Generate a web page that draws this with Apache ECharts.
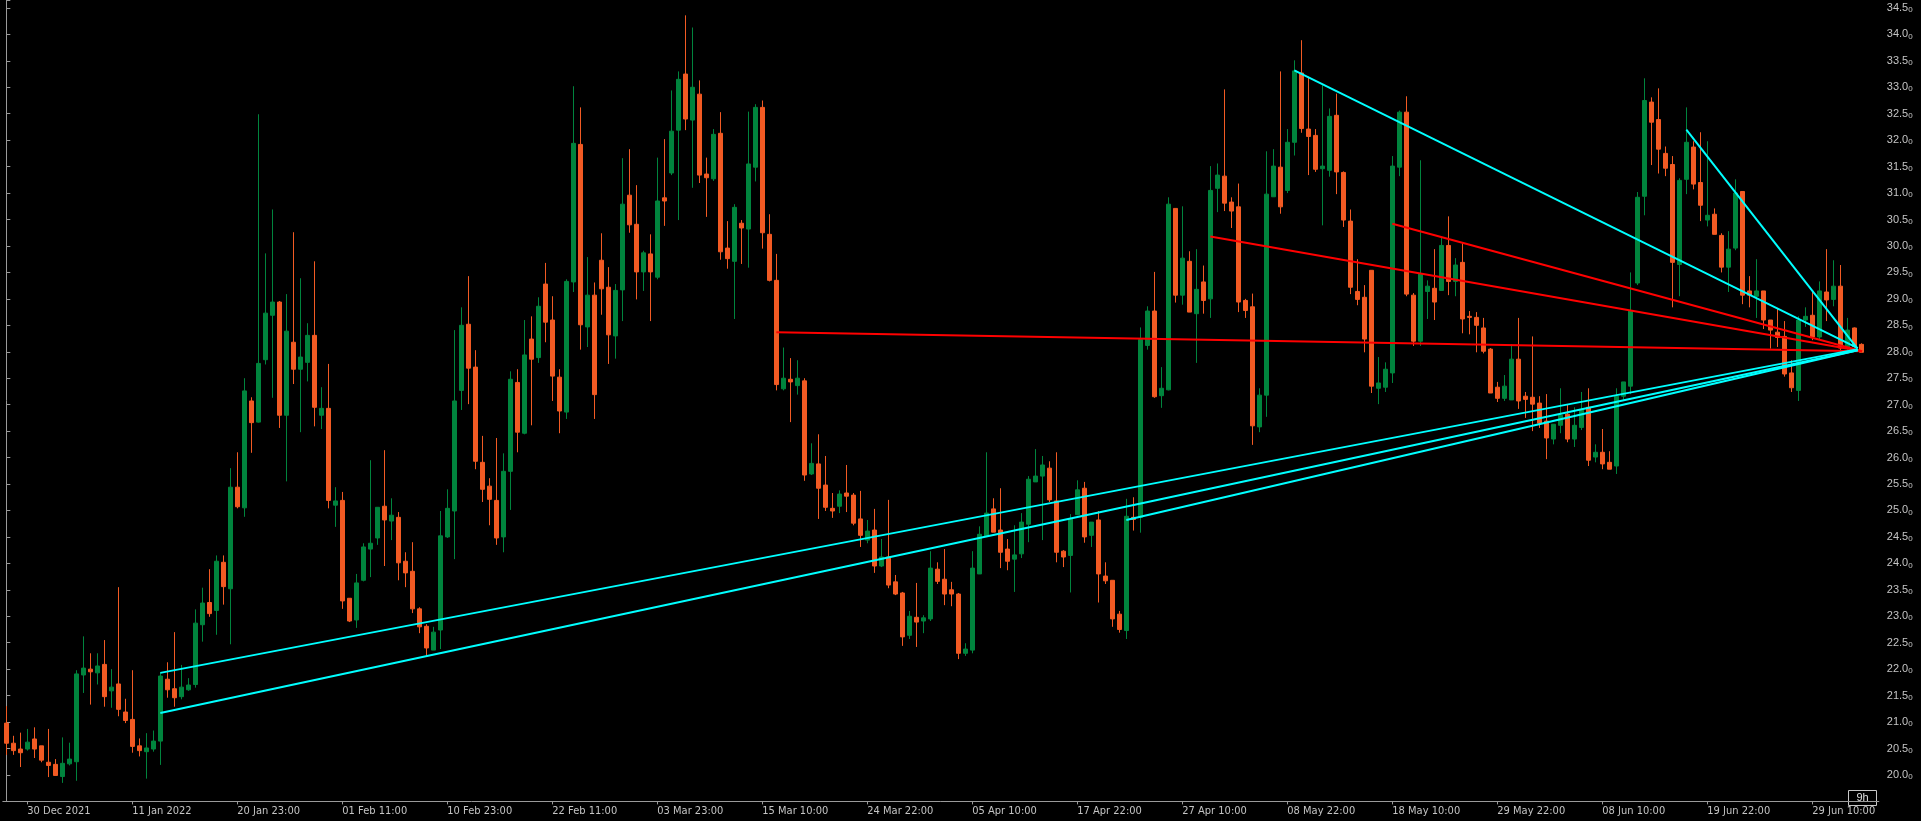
<!DOCTYPE html>
<html>
<head>
<meta charset="utf-8">
<script src="https://cdn.jsdelivr.net/npm/echarts@6/dist/echarts.min.js"></script>
<style>
html,body{margin:0;padding:0;background:#000;}
#chart{width:1921px;height:821px;}
</style>
</head>
<body>
<div id="chart"></div>
<script>
// ---- data (one value per candle) ----
const opens = [20.98,20.60,20.49,20.49,20.68,20.55,20.24,20.20,19.97,20.21,20.25,21.89,22.00,21.93,22.09,21.59,21.72,21.19,21.05,20.55,20.44,20.49,20.64,21.81,21.63,21.48,21.61,21.71,22.84,23.26,23.11,24.02,23.52,25.44,25.05,27.07,26.67,27.85,
28.69,28.94,26.80,28.18,27.67,27.80,28.31,26.80,26.93,25.10,25.19,23.34,22.93,23.68,24.27,24.48,25.08,24.80,24.87,24.04,23.85,23.14,22.81,22.36,22.74,24.50,24.99,27.27,28.52,27.71,25.91,25.46,25.19,24.50,25.74,27.42,26.46,28.24,
27.89,29.28,28.60,27.52,26.86,29.32,31.92,28.47,29.07,29.73,29.22,28.30,29.17,30.96,30.41,29.51,29.85,29.41,30.91,31.38,32.19,33.25,32.38,32.87,31.36,31.27,32.13,29.96,29.71,30.43,30.32,31.49,32.62,30.22,29.35,27.30,27.48,27.36,
27.45,25.69,25.88,25.48,25.04,25.08,25.33,25.29,24.84,24.44,24.63,23.95,24.12,23.65,23.44,22.64,22.98,22.91,22.95,23.89,23.70,23.50,23.42,22.30,22.36,23.80,24.52,25.03,24.63,24.27,24.08,24.18,24.74,25.54,25.65,25.80,25.18,24.23,
24.15,24.92,25.42,24.53,24.82,23.76,23.68,23.04,22.73,24.87,24.87,28.12,28.77,27.17,27.28,30.71,29.07,29.71,28.72,29.32,29.00,31.09,31.32,30.83,30.74,28.97,28.85,26.58,27.18,30.93,31.49,31.05,31.96,33.27,32.21,32.09,31.46,31.43,
32.47,31.39,30.47,29.14,29.03,29.54,27.31,27.33,27.60,31.49,32.53,29.07,28.20,29.14,29.20,29.16,30.01,29.33,29.69,28.67,28.65,28.45,28.05,27.33,27.12,27.09,27.86,27.16,27.14,27.03,26.69,26.35,26.61,26.82,26.35,26.57,26.95,26.01,
26.10,25.91,25.84,27.16,27.35,29.30,30.94,32.72,32.39,31.75,31.54,29.65,31.26,31.87,31.20,30.49,30.60,30.20,29.60,29.96,31.03,29.15,29.05,29.15,28.60,28.37,28.29,27.60,27.27,28.60,28.69,28.28,29.13,28.99,29.24,28.07,28.45,28.14];
const closes = [20.60,20.46,20.42,20.62,20.49,20.28,20.18,19.99,20.22,20.30,21.91,22.02,21.95,22.06,21.48,21.66,21.24,21.03,20.54,20.46,20.51,20.64,21.87,21.61,21.46,21.66,21.70,22.87,23.25,23.05,24.04,23.56,25.44,25.07,27.26,26.66,27.78,28.73,
28.94,26.80,28.39,27.67,27.90,28.31,26.95,26.93,25.19,25.18,23.29,22.91,23.63,24.31,24.38,25.06,24.82,24.91,24.01,23.82,23.14,22.80,22.40,22.70,24.52,25.04,27.07,28.50,27.69,25.93,25.40,25.21,24.48,25.74,27.48,26.48,27.94,27.86,
28.86,28.56,27.54,26.88,29.33,31.94,28.51,29.07,27.19,29.19,28.32,29.16,30.79,30.40,29.51,29.87,29.51,30.85,30.85,32.17,33.15,32.40,33.00,31.34,31.29,32.11,29.89,29.76,30.73,30.34,31.55,32.62,30.25,29.35,27.38,27.50,27.43,27.50,
25.67,25.89,25.42,25.06,24.99,25.31,25.27,24.76,24.53,24.61,23.95,24.12,23.59,23.42,22.61,23.00,22.89,22.97,23.91,23.66,23.42,23.42,22.30,22.38,23.91,24.55,24.95,24.59,24.21,24.04,24.16,24.78,25.59,25.65,25.86,25.20,24.21,24.12,
24.84,25.39,24.50,24.78,23.80,23.67,22.95,22.75,24.89,24.83,28.23,28.77,27.15,27.31,30.79,29.07,29.77,28.75,29.18,28.97,31.05,31.34,30.81,30.66,28.94,28.78,26.60,27.18,30.98,31.51,30.74,31.96,33.31,32.22,32.07,31.45,31.51,32.45,
31.40,30.49,29.22,28.99,28.24,27.35,27.41,27.67,31.51,32.53,29.09,28.20,29.47,29.24,28.94,30.01,29.33,29.64,28.62,28.65,28.50,28.01,27.22,27.12,27.35,27.86,27.07,27.10,27.01,26.65,26.37,26.63,26.80,26.35,26.61,26.90,25.95,26.10,
25.88,25.78,27.16,27.43,28.77,30.92,32.75,32.34,31.83,31.47,29.69,31.24,31.96,31.17,30.77,30.58,30.22,29.60,29.94,31.00,29.07,29.07,29.15,28.60,28.41,28.27,27.58,27.32,28.60,28.67,28.28,29.15,28.98,29.24,28.07,28.41,28.10,27.99];
const lows = [20.38,20.38,20.15,20.46,20.32,20.24,19.96,19.99,19.85,20.18,19.89,21.55,21.33,21.71,21.29,21.27,21.11,20.98,20.42,20.35,19.93,20.44,20.19,21.46,21.29,21.43,21.59,21.65,22.52,22.99,22.65,23.22,22.47,25.04,24.88,26.09,26.66,27.76,
27.13,26.56,25.55,27.39,26.48,27.44,26.59,26.54,25.04,24.69,23.14,22.89,22.78,23.66,23.74,24.35,23.95,24.44,23.68,23.55,23.06,22.68,22.25,22.36,22.38,24.48,24.08,26.90,27.01,25.78,25.16,24.72,24.35,24.21,25.01,26.10,26.44,26.61,
27.79,28.18,27.07,26.46,26.73,29.13,28.04,28.09,26.73,28.70,27.77,27.87,28.58,30.25,28.99,29.15,28.58,29.37,30.38,31.34,30.49,32.19,31.10,31.19,30.55,31.23,29.74,29.57,28.62,29.66,29.59,31.22,29.95,29.33,27.27,27.27,26.67,27.19,
25.56,25.67,24.84,24.99,24.86,24.95,24.97,24.72,24.31,24.38,23.82,23.93,23.53,23.40,22.44,22.57,22.42,22.68,22.91,23.61,23.21,23.19,22.19,22.25,22.30,23.80,24.52,24.59,23.91,23.87,23.46,24.10,24.40,25.54,24.44,25.16,24.02,23.93,
23.45,24.91,24.39,24.31,23.26,23.61,22.80,22.69,22.57,24.62,24.58,28.04,27.13,26.94,27.27,28.93,28.89,28.75,27.79,28.72,28.64,30.64,30.66,30.34,28.75,28.64,26.24,26.48,26.77,30.93,30.61,31.00,31.71,32.14,31.34,31.40,30.39,31.31,
30.98,30.36,29.09,28.88,27.99,27.22,27.01,27.24,27.41,31.32,29.05,28.11,28.11,28.62,28.60,29.16,29.07,29.05,28.35,28.33,27.99,27.97,27.22,27.05,27.07,27.09,26.92,26.75,26.50,26.56,25.97,26.25,26.46,26.29,26.20,26.52,25.84,25.91,
25.78,25.78,25.69,27.09,27.20,29.26,30.58,31.53,31.37,31.32,28.84,29.05,30.98,31.07,30.47,30.37,30.22,29.50,29.13,29.92,28.90,28.84,28.64,28.43,28.06,28.09,27.53,27.24,27.07,28.47,28.22,28.24,28.58,28.86,27.95,28.03,28.08,27.99];
const highs = [21.30,20.74,20.80,20.87,20.90,20.55,20.87,20.30,20.71,20.61,21.98,22.62,22.30,22.30,22.55,22.00,23.55,21.44,21.98,20.69,20.79,20.84,21.94,22.13,22.70,22.08,21.83,23.13,23.54,23.89,24.15,24.15,25.80,26.10,27.50,27.14,32.49,29.86,
30.69,28.96,29.09,30.26,29.39,28.54,29.71,27.33,27.77,25.44,25.35,23.34,23.80,24.38,25.95,25.06,26.14,25.23,24.97,24.21,24.40,23.17,22.85,22.80,24.99,25.40,28.41,28.84,29.43,28.03,26.41,25.61,26.37,26.08,27.63,27.67,28.60,28.67,
29.03,29.68,29.05,27.67,29.37,33.02,32.62,29.79,29.31,30.24,29.60,29.28,31.66,31.83,31.15,29.91,30.22,31.67,32.02,32.94,33.30,34.36,34.13,33.13,31.67,32.21,32.53,30.47,30.79,30.49,32.54,32.68,32.75,30.60,29.85,28.08,27.88,27.84,
27.50,26.27,26.44,26.03,25.33,25.38,25.86,25.33,25.37,24.82,25.03,24.46,25.20,23.78,23.46,23.10,23.63,23.02,24.23,24.02,24.27,23.65,23.44,22.49,24.23,24.70,26.10,25.23,25.42,24.46,24.72,24.95,25.65,26.16,26.03,25.93,26.10,24.25,
24.93,25.57,25.54,24.78,24.99,24.02,23.68,23.10,25.22,25.25,28.46,28.86,29.51,27.71,30.92,30.71,30.75,29.90,29.94,29.63,31.51,31.56,32.96,30.92,31.18,29.00,29.10,27.31,31.79,31.83,33.30,32.21,33.51,33.89,33.20,32.21,33.04,32.60,
32.88,31.41,30.69,29.75,29.26,29.54,27.90,27.80,31.70,32.56,32.83,29.11,31.62,29.35,29.94,30.15,30.56,29.77,30.05,28.77,28.75,28.64,28.07,27.43,27.56,28.14,28.64,27.24,28.29,27.16,27.20,26.63,27.31,27.01,26.95,27.24,27.31,26.25,
26.54,26.12,27.31,27.43,29.50,31.02,33.17,32.81,32.98,31.88,31.70,31.28,32.62,31.98,32.15,31.98,30.71,30.24,30.28,31.26,31.03,29.43,29.75,29.15,28.60,28.82,28.58,27.84,28.67,28.84,29.13,29.33,29.94,29.73,29.64,28.64,28.46,28.16];

// x-axis tick labels: one every 15 candles, starting at candle 3
const tickLabels = ['30 Dec 2021','11 Jan 2022','20 Jan 23:00','01 Feb 11:00','10 Feb 23:00','22 Feb 11:00','03 Mar 23:00','15 Mar 10:00','24 Mar 22:00','05 Apr 10:00','17 Apr 22:00','27 Apr 10:00','08 May 22:00','18 May 10:00','29 May 22:00','08 Jun 10:00','19 Jun 22:00','29 Jun 10:00'];
const tickFirst = 3, tickStep = 15;
const emptySlots = 2; // free space after the last candle

// trendlines: [fromCandle, fromPrice, toCandle, toPrice]
const cyanLines = [[22,21.93,264.5,28.05],[22,21.17,264.5,28.03],[160,24.82,264.5,28.03],[184,33.32,264.5,28.07],[240,32.20,264.4,28.07]];
const redLines = [[110,28.37,265.1,28.01],[172,30.18,265.1,28.01],[198,30.42,265.1,28.01]];

// ---- build ----
const N = opens.length + emptySlots;
const categories = [];
for (let i = 0; i < N; i++) {
  const k = i - tickFirst;
  categories.push(k >= 0 && k % tickStep === 0 && k / tickStep < tickLabels.length ? tickLabels[k / tickStep] : 'c' + i);
}
const candleData = opens.map((o, i) => [o, closes[i], lows[i], highs[i]]);
const isTick = (i) => { const k = i - tickFirst; return k >= 0 && k % tickStep === 0 && k / tickStep < tickLabels.length; };

const UP = '#00843D', DOWN = '#F25A23', AXIS = '#9a9a9a', TXT = '#c4c4c4';
const lineSeries = [];
cyanLines.forEach(l => lineSeries.push({type:'line', xAxisIndex:1, yAxisIndex:0, data:[[l[0],l[1]],[l[2],l[3]]], showSymbol:false, silent:true, lineStyle:{color:'#00FFFF', width:2}, z:5}));
redLines.forEach(l => lineSeries.push({type:'line', xAxisIndex:1, yAxisIndex:0, data:[[l[0],l[1]],[l[2],l[3]]], showSymbol:false, silent:true, lineStyle:{color:'#FF0000', width:2}, z:4}));

const chart = echarts.init(document.getElementById('chart'), null, {renderer:'canvas'});
const gridLeft = 2.83, band = 7;
chart.setOption({
  backgroundColor:'#000',
  animation:false,
  grid:{left:gridLeft, width:band*N, top:0, height:801.4, containLabel:false},
  xAxis:[{
    type:'category', data:categories, boundaryGap:true,
    axisLine:{show:true, lineStyle:{color:AXIS, width:1}},
    axisTick:{show:true, alignWithLabel:true, interval:(i)=>isTick(i), length:3, lineStyle:{color:AXIS}},
    axisLabel:{show:true, interval:(i)=>isTick(i), formatter:(v)=> v.charAt(0)==='c' ? '' : v, align:'left', color:TXT, fontSize:11, fontFamily:"'Liberation Sans Narrow','DejaVu Sans Condensed','Liberation Sans',sans-serif", margin:4},
    splitLine:{show:false}
  },{
    type:'value', min:-0.5, max:N-0.5, show:false
  }],
  yAxis:{
    type:'value', position:'right', min:19.5, max:34.65, interval:0.5, scale:true,
    axisLine:{show:true, lineStyle:{color:AXIS, width:1}},
    axisTick:{show:true, inside:false, length:4, lineStyle:{color:AXIS}},
    axisLabel:{
      show:true, color:TXT, margin:8, fontFamily:"'Liberation Sans',sans-serif",
      formatter:(v)=>{
        if (v < 19.9 || Math.abs(v*2 - Math.round(v*2)) > 1e-6) return '';
        const s = v.toFixed(2);
        return '{a|' + s.slice(0,-1) + '}{b|' + s.slice(-1) + '}';
      },
      rich:{a:{fontSize:11, color:TXT, fontFamily:"'Liberation Sans',sans-serif"}, b:{fontSize:8, color:TXT, padding:[4,0,0,0], fontFamily:"'Liberation Sans',sans-serif"}}
    },
    splitLine:{show:false}
  },
  series:[{
    type:'candlestick', xAxisIndex:0, yAxisIndex:0, data:candleData, barWidth:4,
    itemStyle:{color:UP, color0:DOWN, borderColor:UP, borderColor0:DOWN, borderWidth:1},
    z:3
  }].concat(lineSeries),
  graphic:[{
    type:'group', left:1848, top:790,
    children:[
      {type:'rect', shape:{x:0, y:0, width:28, height:15}, style:{fill:'#000', stroke:'#c8c8c8', lineWidth:1}},
      {type:'text', style:{x:14, y:7.5, text:'9h', fill:'#e0e0e0', font:"11px 'Liberation Sans', sans-serif", textAlign:'center', textVerticalAlign:'middle'}}
    ]
  }]
});
</script>
</body>
</html>
